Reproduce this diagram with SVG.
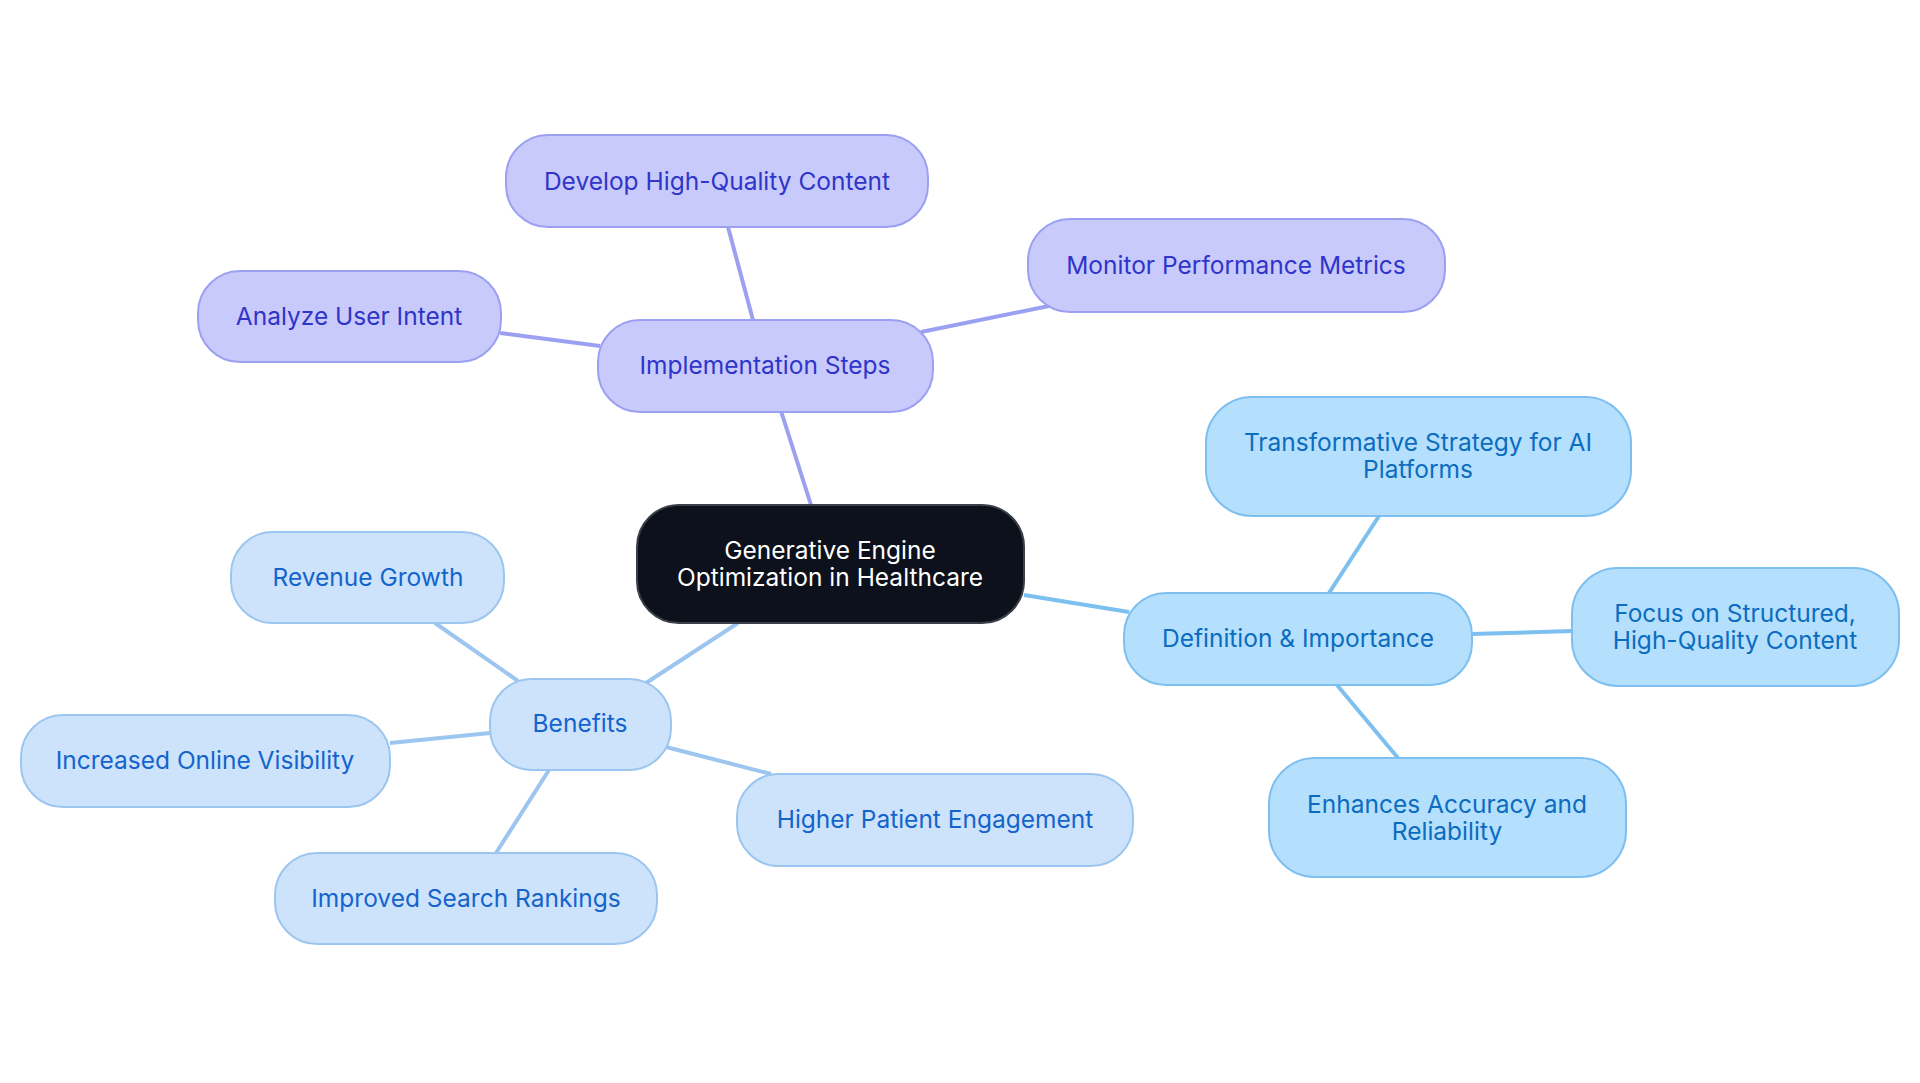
<svg xmlns="http://www.w3.org/2000/svg" width="1920" height="1083" viewBox="0 0 1920 1083">
<style>
text{font-family:Inter,"Noto Sans","Liberation Sans",sans-serif;font-size:24.5px;text-anchor:middle;dominant-baseline:central}
.p rect{fill:#c9cafc;stroke:#9ca0f0;stroke-width:2}
.p text{fill:#2f35c8}
.d rect{fill:#b4dffd;stroke:#7dbfef;stroke-width:2}
.d text{fill:#0b6cc0}
.b rect{fill:#cde3fb;stroke:#9cc6f0;stroke-width:2}
.b text{fill:#1464cc}
.c rect{fill:#0c111b;stroke:#3a3f48;stroke-width:2}
.c text{fill:#ffffff}
.lp{stroke:#9ca0f0;stroke-width:4;fill:none}
.ld{stroke:#7dbfef;stroke-width:4;fill:none}
.lb{stroke:#9cc6f0;stroke-width:4;fill:none}
</style>
<rect width="1920" height="1083" fill="#ffffff"/>
<g id="connectors">
<line class="lp" x1="811" y1="505" x2="781" y2="411"/>
<line class="lp" x1="728" y1="227" x2="753" y2="320"/>
<line class="lp" x1="500" y1="333" x2="600" y2="346"/>
<line class="lp" x1="921" y1="332" x2="1049" y2="306"/>
<line class="ld" x1="1024" y1="595" x2="1129" y2="612"/>
<line class="ld" x1="1329" y1="593" x2="1379" y2="516"/>
<line class="ld" x1="1472" y1="634" x2="1572" y2="631"/>
<line class="ld" x1="1337" y1="685" x2="1398" y2="758"/>
<line class="lb" x1="738" y1="623" x2="646" y2="683"/>
<line class="lb" x1="435" y1="623" x2="518" y2="681"/>
<line class="lb" x1="390" y1="743" x2="490" y2="733"/>
<line class="lb" x1="549" y1="770" x2="496" y2="853"/>
<line class="lb" x1="666" y1="747" x2="771" y2="774"/>
</g>
<g id="center" class="c">
<rect x="637" y="505" width="387" height="118" rx="42"/>
<text x="830" y="550">Generative Engine</text>
<text x="830" y="577">Optimization in Healthcare</text>
</g>
<g id="impl" class="p">
<rect x="598" y="320" width="335" height="92" rx="42"/>
<text x="765" y="365">Implementation Steps</text>
</g>
<g id="develop" class="p">
<rect x="506" y="135" width="422" height="92" rx="42"/>
<text x="717" y="181">Develop High-Quality Content</text>
</g>
<g id="analyze" class="p">
<rect x="198" y="271" width="303" height="91" rx="42"/>
<text x="349" y="316">Analyze User Intent</text>
</g>
<g id="monitor" class="p">
<rect x="1028" y="219" width="417" height="93" rx="42"/>
<text x="1236" y="265">Monitor Performance Metrics</text>
</g>
<g id="definition" class="d">
<rect x="1124" y="593" width="348" height="92" rx="42"/>
<text x="1298" y="638">Definition &amp; Importance</text>
</g>
<g id="transformative" class="d">
<rect x="1206" y="397" width="425" height="119" rx="46"/>
<text x="1418" y="442">Transformative Strategy for AI</text>
<text x="1418" y="469">Platforms</text>
</g>
<g id="focus" class="d">
<rect x="1572" y="568" width="327" height="118" rx="46"/>
<text x="1735" y="613">Focus on Structured,</text>
<text x="1735" y="640">High-Quality Content</text>
</g>
<g id="enhances" class="d">
<rect x="1269" y="758" width="357" height="119" rx="46"/>
<text x="1447" y="804">Enhances Accuracy and</text>
<text x="1447" y="831">Reliability</text>
</g>
<g id="benefits" class="b">
<rect x="490" y="679" width="181" height="91" rx="42"/>
<text x="580" y="723">Benefits</text>
</g>
<g id="revenue" class="b">
<rect x="231" y="532" width="273" height="91" rx="42"/>
<text x="368" y="577">Revenue Growth</text>
</g>
<g id="visibility" class="b">
<rect x="21" y="715" width="369" height="92" rx="42"/>
<text x="205" y="760">Increased Online Visibility</text>
</g>
<g id="rankings" class="b">
<rect x="275" y="853" width="382" height="91" rx="42"/>
<text x="466" y="898">Improved Search Rankings</text>
</g>
<g id="engagement" class="b">
<rect x="737" y="774" width="396" height="92" rx="42"/>
<text x="935" y="819">Higher Patient Engagement</text>
</g>
</svg>
